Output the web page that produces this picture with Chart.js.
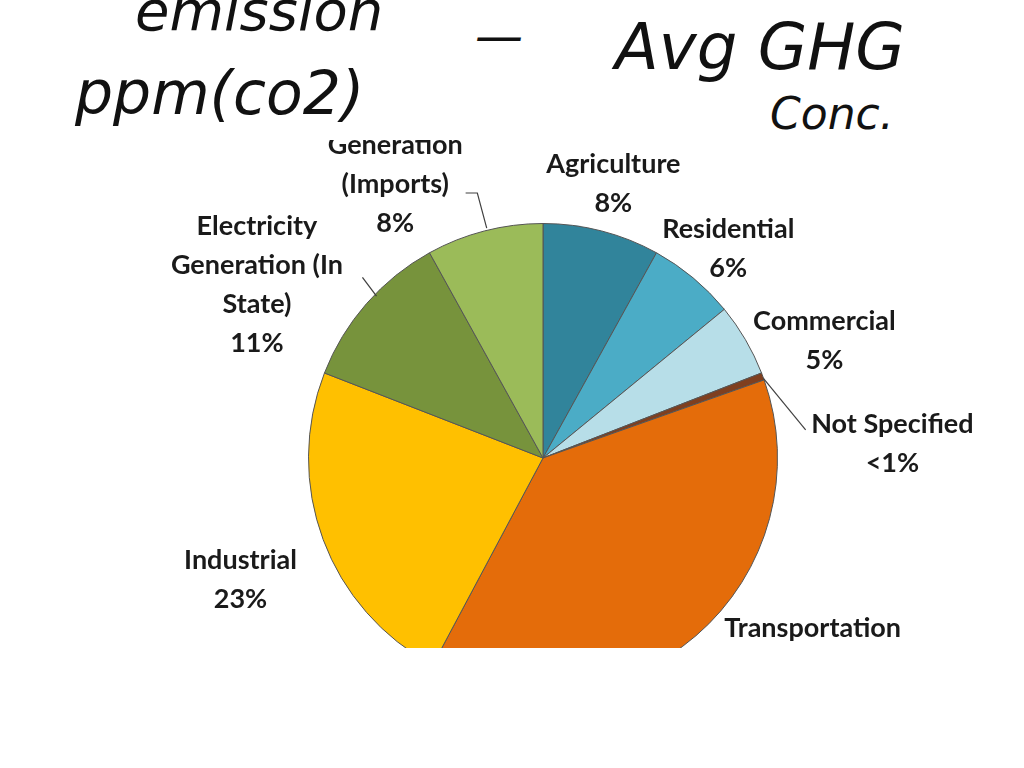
<!DOCTYPE html>
<html><head><meta charset="utf-8">
<script src="https://cdn.jsdelivr.net/npm/chart.js@4"></script>
<style>
html,body{margin:0;padding:0;background:#fff;width:1024px;height:768px;overflow:hidden}
#wrap{position:absolute;left:0;top:0;width:1024px;height:768px;clip-path:inset(140px 0 120px 0)}
.hw{position:absolute;font-family:"DejaVu Sans";font-weight:300;color:#111;font-style:italic;white-space:nowrap}
</style></head><body>
<div class="hw" style="left:135px;top:-22px;font-size:56px">emission</div>
<div class="hw" style="left:475px;top:8px;font-size:48px">—</div>
<div class="hw" style="left:615px;top:10px;font-size:64px">Avg GHG</div>
<div class="hw" style="left:75px;top:58px;font-size:60px">ppm(co2)</div>
<div class="hw" style="left:770px;top:88px;font-size:44px">Conc.</div>
<div id="wrap"><canvas id="c" width="1024" height="768"></canvas></div>
<script>
const categories=["Agriculture","Residential","Commercial","Not Specified","Transportation","Industrial","Electricity Generation (In State)","Electricity Generation (Imports)"];
const values=[8,6,5,0.5,38,23,11,8];
const valueLabels=["8%","6%","5%","<1%","38%","23%","11%","8%"];
const labelLines=[["Agriculture"],["Residential"],["Commercial"],["Not Specified"],["Transportation"],["Industrial"],["Electricity","Generation (In","State)"],["Electricity","Generation","(Imports)"]];
const colors=["#31849B","#4BACC6","#B7DEE8","#7F3F1F","#E46C0A","#FFC000","#77933C","#9BBB59"];
const layout=[[0.30,-1.17],[0.79,-0.89],[1.20,-0.50],[1.49,-0.06],[1.15,0.81],[-1.29,0.52],[-1.22,-0.74],[-0.63,-1.25]];
const leaders=[null,null,null,[[0.94,-0.34],[1.12,-0.12]],null,null,[[-0.71,-0.69],[-0.77,-0.77]],[[-0.24,-0.98],[-0.28,-1.13],[-0.33,-1.13]]];
const labelPlugin={id:'lbl',afterDatasetsDraw(chart){
 const ctx=chart.ctx;const arc=chart.getDatasetMeta(0).data[0];
 const cx=arc.x,cy=arc.y,R=arc.outerRadius;
 ctx.save();ctx.fillStyle='#1a1a1a';ctx.font='bold 27px Lato';ctx.textAlign='center';ctx.textBaseline='middle';
 const lh=39;
 categories.forEach((c,i)=>{
  const lines=labelLines[i].concat([valueLabels[i]]);
  const x=cx+layout[i][0]*R,y=cy+layout[i][1]*R;
  const y0=y-(lines.length-1)*lh/2;
  lines.forEach((t,k)=>ctx.fillText(t,x,y0+k*lh));
  if(leaders[i]){ctx.strokeStyle='#404040';ctx.lineWidth=1.2;ctx.beginPath();
   leaders[i].forEach((p,k)=>{const px=cx+p[0]*R,py=cy+p[1]*R;k?ctx.lineTo(px,py):ctx.moveTo(px,py);});ctx.stroke();}
 });
 ctx.restore();}};
new Chart(document.getElementById('c'),{type:'pie',
 data:{labels:categories,datasets:[{data:values,backgroundColor:colors,borderColor:'#555',borderWidth:1}]},
 options:{responsive:false,animation:false,layout:{padding:{left:308,right:246,top:223,bottom:75}},
  plugins:{legend:{display:false},tooltip:{enabled:false}}},
 plugins:[labelPlugin]});
</script></body></html>
